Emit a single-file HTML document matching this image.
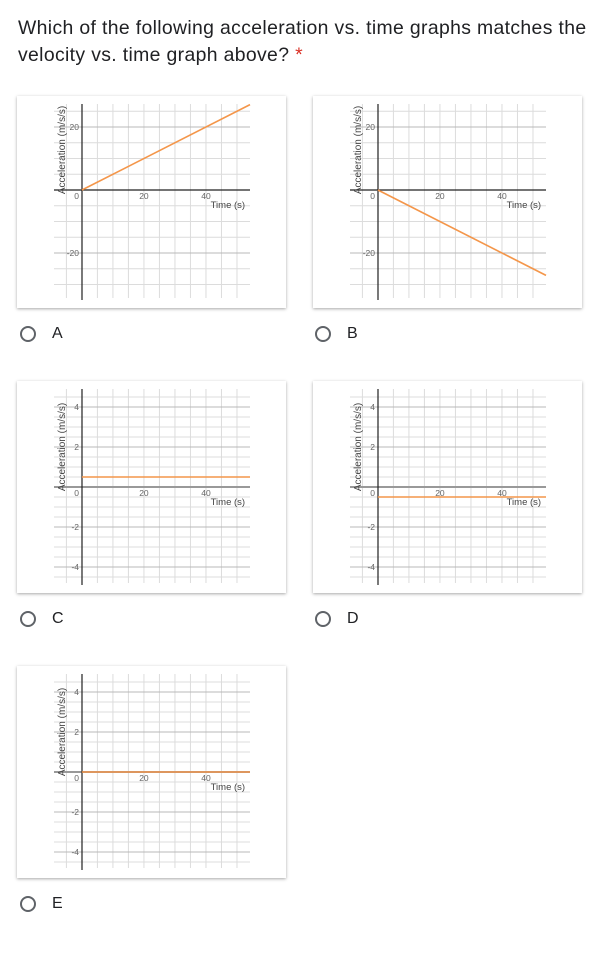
<!DOCTYPE html>
<html><head><meta charset="utf-8">
<style>
body{margin:0;width:604px;height:958px;background:#fff;font-family:"Liberation Sans",Arial,sans-serif;position:relative;overflow:hidden}
.q{position:absolute;left:18px;top:15px;font-size:19.4px;line-height:27px;color:#202124;letter-spacing:0.35px}
.q .star{color:#d93025}
.card{position:absolute;width:269px;height:212px;background:#fff;box-shadow:0 1px 3px rgba(0,0,0,.35)}
.card svg{position:absolute;left:0;top:0}
.opt{position:absolute;display:flex;align-items:center;font-size:16px;color:#202124}
.rad{width:16px;height:16px;border:2px solid #5f6368;border-radius:50%;box-sizing:border-box;margin-right:16px}
</style></head><body>
<div class="q">Which of the following acceleration vs. time graphs matches the<br>velocity vs. time graph above? <span class="star">*</span></div>

<div class="card" id="cA" style="left:17px;top:96px"></div>
<div class="card" id="cB" style="left:313px;top:96px"></div>
<div class="card" id="cC" style="left:17px;top:381px"></div>
<div class="card" id="cD" style="left:313px;top:381px"></div>
<div class="card" id="cE" style="left:17px;top:666px"></div>

<div class="opt" style="left:20px;top:325px"><div class="rad"></div>A</div>
<div class="opt" style="left:315px;top:325px"><div class="rad"></div>B</div>
<div class="opt" style="left:20px;top:610px"><div class="rad"></div>C</div>
<div class="opt" style="left:315px;top:610px"><div class="rad"></div>D</div>
<div class="opt" style="left:20px;top:895px"><div class="rad"></div>E</div>

<script>
// Data
const timeTicks = [0, 20, 40];
const timeDomain = [-9, 54.2];
const bigYTicks = [20, 0, -20];
const smallYTicks = [4, 2, 0, -2, -4];
const seriesTime = [0, 54.2];
const seriesA = [0, 27.1];
const seriesB = [0, -27.1];
const seriesC = [0.5, 0.5];
const seriesD = [-0.5, -0.5];
const seriesE = [0, 0];

const NS = "http://www.w3.org/2000/svg";
function mk(tag, attrs, parent){
  const e = document.createElementNS(NS, tag);
  for (const k in attrs) e.setAttribute(k, attrs[k]);
  parent.appendChild(e);
  return e;
}
function chart(id, yTop, yBot, axisY, gridStep, yTicks, values, grayAxis){
  const card = document.getElementById(id);
  const svg = mk('svg', {width:269, height:212}, card);
  const L = 37, R = 233, T = 8, B = 202, AX = 65;
  const x = t => L + (t - timeDomain[0]) / (timeDomain[1] - timeDomain[0]) * (R - L);
  const ky = (axisY - T) / yTop;
  const y = v => axisY - v * ky;
  for (let t = -5; t <= timeDomain[1]; t += 5){
    const g = mk('line', {x1:x(t), x2:x(t), y1:T, y2:B, stroke:'#dcdcdc', 'stroke-width':1}, svg);
    
    
  }
  for (let v = Math.ceil(yBot / gridStep) * gridStep; v <= yTop; v += gridStep){
    const major = yTicks.some(tk => Math.abs(tk - v) < 1e-6);
    const g = mk('line', {x1:L, x2:R, y1:y(v), y2:y(v), stroke: major ? '#b8b8b8' : '#dcdcdc', 'stroke-width':1}, svg);
    
    
  }
  const xa = mk('line', {x1:L, x2:R, y1:y(0), y2:y(0), stroke: grayAxis ? '#999' : '#222', 'stroke-width': grayAxis ? 2 : 1.2}, svg);
  
  
  const ya = mk('line', {x1:AX, x2:AX, y1:T, y2:B + 2, stroke:'#222', 'stroke-width':1.2}, svg);
  
  
  timeTicks.forEach(t => {
    if (t === 0) return;
    const tx = mk('text', {x:x(t), y:y(0) + 9, 'font-size':8.5, fill:'#666', 'text-anchor':'middle'}, svg);
    tx.textContent = t;
    
    
  });
  yTicks.forEach(v => {
    const tx = mk('text', {x:AX - 3, y: v === 0 ? y(0) + 9 : y(v) + 3, 'font-size':8.5, fill:'#666', 'text-anchor':'end'}, svg);
    tx.textContent = v;
    
    
  });
  const xt = mk('text', {x:x(41.5), y:y(0) + 18, 'font-size':9.5, fill:'#444'}, svg);
  xt.textContent = 'Time (s)';
  
  
  const yt = mk('text', {x:0, y:0, 'font-size':10, fill:'#444', 'text-anchor':'middle', transform:`translate(48,${axisY - 40}) rotate(-90)`}, svg);
  yt.textContent = 'Acceleration (m/s/s)';
  
  
  const pts = seriesTime.map((t, i) => x(t) + ',' + y(values[i])).join(' ');
  const pl = mk('polyline', {points:pts, fill:'none', stroke:'#f4964a', 'stroke-width':1.6}, svg);
  
  
}
chart('cA', 27.3, -34.3, 94, 5, bigYTicks, seriesA, false);
chart('cB', 27.3, -34.3, 94, 5, bigYTicks, seriesB, false);
chart('cC', 4.9, -4.9, 106, 0.5, smallYTicks, seriesC, true);
chart('cD', 4.9, -4.9, 106, 0.5, smallYTicks, seriesD, true);
chart('cE', 4.9, -4.9, 106, 0.5, smallYTicks, seriesE, true);
</script>
</body></html>
